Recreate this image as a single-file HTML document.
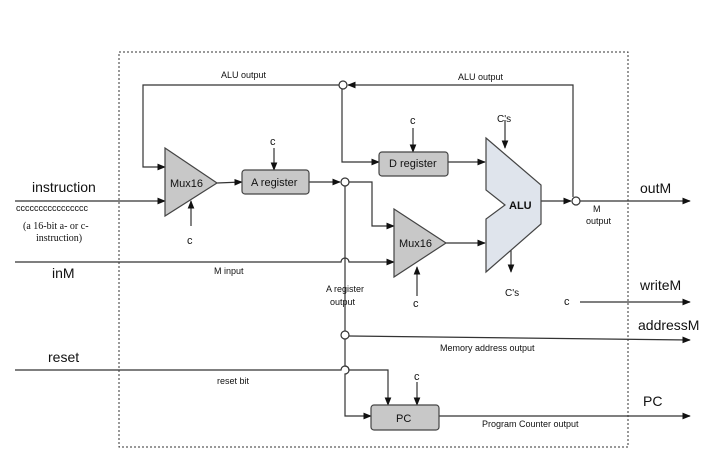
<!DOCTYPE html>
<html><head><meta charset="utf-8"><style>
html,body{margin:0;padding:0;background:#fff;}
svg{display:block;}
text{font-family:"Liberation Sans",sans-serif;fill:#111;}
.s{font-size:9px;}
.b{font-size:14px;}
</style></head><body>
<svg width="721" height="457" viewBox="0 0 721 457" xmlns="http://www.w3.org/2000/svg">
<defs>
<marker id="a" viewBox="0 0 10 10" refX="9" refY="5" markerWidth="7" markerHeight="7" orient="auto"><path d="M0,1 L10,5 L0,9 z" fill="#111"/></marker>
</defs>
<rect x="119" y="52" width="509" height="395" fill="none" stroke="#333" stroke-width="1" stroke-dasharray="2,2"/>
<g stroke="#333" stroke-width="1.2" fill="none">
<!-- ALU feedback -->
<path d="M573,197 V85 H348" marker-end="url(#a)"/>
<path d="M339,85 H143 V167 H165" marker-end="url(#a)"/>
<path d="M342,89 V162 H379" marker-end="url(#a)"/>
<!-- instruction -->
<path d="M15,201 H165" marker-end="url(#a)"/>
<path d="M191,226 V201" marker-end="url(#a)"/>
<path d="M217,183 L242,182" marker-end="url(#a)"/>
<path d="M274,148 V170" marker-end="url(#a)"/>
<path d="M309,182 H340" marker-end="url(#a)"/>
<path d="M413,128 V152" marker-end="url(#a)"/>
<path d="M448,162 H485" marker-end="url(#a)"/>
<!-- A to mux2 -->
<path d="M349,182 H372 V226 H394" marker-end="url(#a)"/>
<path d="M15,262 H341 A4,4 0 0 1 349,262 H394" marker-end="url(#a)"/>
<path d="M417,296 V267" marker-end="url(#a)"/>
<path d="M446,243 H485" marker-end="url(#a)"/>
<path d="M505,120 V148" marker-end="url(#a)"/>
<path d="M511,250 V272" marker-end="url(#a)"/>
<path d="M541,201 H571" marker-end="url(#a)"/>
<path d="M580,201 H690" marker-end="url(#a)"/>
<path d="M580,302 H690" marker-end="url(#a)"/>
<!-- A register vertical -->
<path d="M345,186 V331"/>
<path d="M345,339 V366 A4,4 0 0 1 345,374 V416 H371" marker-end="url(#a)"/>
<path d="M349,336 L690,340" marker-end="url(#a)"/>
<path d="M15,370 H341 A4,4 0 0 1 349,370 H388 V405" marker-end="url(#a)"/>
<path d="M417,382 V405" marker-end="url(#a)"/>
<path d="M439,416 H690" marker-end="url(#a)"/>
</g>
<!-- circles -->
<g fill="#fff" stroke="#333" stroke-width="1.2">
<circle cx="343" cy="85" r="4"/>
<circle cx="345" cy="182" r="4"/>
<circle cx="576" cy="201" r="4"/>
<circle cx="345" cy="335" r="4"/>
</g>
<!-- shapes -->
<g stroke="#444" stroke-width="1.2">
<polygon points="165,148 217,183 165,216" fill="#c8c8c8"/>
<polygon points="394,209 446,243 394,277" fill="#c8c8c8"/>
<rect x="242" y="170" width="67" height="24" rx="3" fill="#c8c8c8"/>
<rect x="379" y="152" width="69" height="24" rx="3" fill="#c8c8c8"/>
<rect x="371" y="405" width="68" height="25" rx="3" fill="#c8c8c8"/>
<polygon points="486,138 541,185 541,224 486,272 486,219 505,205 486,190" fill="#dfe4ec"/>
</g>
<text x="170" y="187" font-size="11">Mux16</text>
<text x="399" y="247" font-size="11">Mux16</text>
<text x="251" y="186" font-size="11">A register</text>
<text x="389" y="167" font-size="11">D register</text>
<text x="396" y="422" font-size="11">PC</text>
<text x="509" y="209" font-size="11" font-weight="bold">ALU</text>
<text class="s" x="221" y="78">ALU output</text>
<text class="s" x="458" y="80">ALU output</text>
<text x="270" y="145" font-size="11">c</text>
<text x="410" y="124" font-size="11">c</text>
<text x="187" y="244" font-size="11">c</text>
<text x="413" y="307" font-size="11">c</text>
<text x="414" y="380" font-size="11">c</text>
<text x="564" y="305" font-size="11">c</text>
<text x="497" y="122" font-size="10">C's</text>
<text x="505" y="296" font-size="10">C's</text>
<text class="s" x="593" y="212">M</text>
<text class="s" x="586" y="224">output</text>
<text class="s" x="214" y="274">M input</text>
<text class="s" x="326" y="292">A register</text>
<text class="s" x="330" y="305">output</text>
<text class="s" x="440" y="351">Memory address output</text>
<text class="s" x="217" y="384">reset bit</text>
<text class="s" x="482" y="427">Program Counter output</text>
<text class="b" x="32" y="192">instruction</text>
<text x="16" y="211" font-size="9" font-family="Liberation Serif">cccccccccccccccc</text>
<text x="23" y="229" font-size="10" style="font-family:'Liberation Serif',serif">(a 16-bit a-  or  c-</text>
<text x="36" y="241" font-size="10" style="font-family:'Liberation Serif',serif">instruction)</text>
<text class="b" x="52" y="278">inM</text>
<text class="b" x="48" y="362">reset</text>
<text class="b" x="640" y="193">outM</text>
<text class="b" x="640" y="290">writeM</text>
<text class="b" x="638" y="330">addressM</text>
<text class="b" x="643" y="406">PC</text>
</svg>
</body></html>
